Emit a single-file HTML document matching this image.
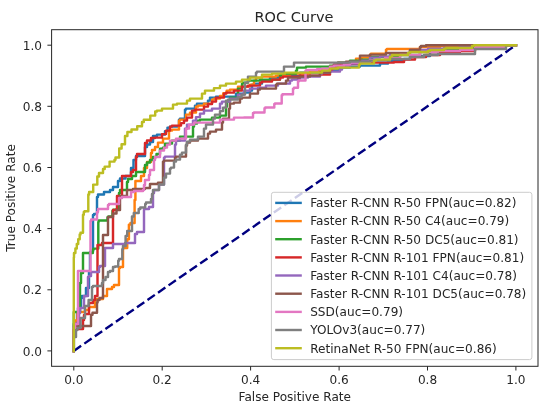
<!DOCTYPE html><html><head><meta charset="utf-8"><title>ROC Curve</title>
<style>html,body{margin:0;padding:0;background:#fff}svg{display:block}text{font-family:"DejaVu Sans","Liberation Sans",sans-serif;fill:#262626}</style></head><body>
<svg width="550" height="415" viewBox="0 0 550 415">
<rect width="550" height="415" fill="#fff"/>
<clipPath id="c"><rect x="51.6" y="29.7" width="486.4" height="336.6"/></clipPath>
<g clip-path="url(#c)" fill="none" stroke-width="2.45" stroke-linejoin="round" stroke-linecap="square">
<path d="M73.8 350.9 L515.9 45.2" stroke="#000080" stroke-width="2.4" stroke-dasharray="8.9 3.9" stroke-linecap="butt"/>
<path d="M73.8 350.9 L73.8 324.0 L74.5 324.0 L74.5 322.0 L77.0 322.0 L77.0 313.0 L78.0 313.0 L78.0 308.0 L81.0 308.0 L81.0 298.0 L82.0 298.0 L82.0 296.0 L86.0 296.0 L86.0 289.0 L86.0 289.0 L86.0 288.0 L89.0 288.0 L89.0 272.0 L90.0 272.0 L90.0 254.0 L90.0 254.0 L90.0 252.0 L93.0 252.0 L93.0 215.0 L94.0 215.0 L94.0 214.0 L97.0 214.0 L97.0 197.0 L98.0 197.0 L98.0 194.5 L104.0 194.5 L104.0 192.0 L110.0 192.0 L110.0 190.0 L113.0 190.0 L113.0 187.0 L118.0 187.0 L118.0 181.0 L120.0 181.0 L120.0 178.5 L125.5 178.5 L125.5 176.0 L131.0 176.0 L131.0 168.0 L133.5 168.0 L133.5 160.0 L136.0 160.0 L136.0 156.0 L145.0 156.0 L145.0 147.0 L147.0 147.0 L147.0 144.5 L150.0 144.5 L150.0 142.0 L153.0 142.0 L153.0 136.0 L157.0 136.0 L157.0 134.6 L165.0 134.6 L165.0 131.1 L167.5 131.1 L167.5 127.6 L170.0 127.6 L170.0 126.6 L179.0 126.6 L179.0 119.6 L180.0 119.6 L180.0 118.6 L185.0 118.6 L185.0 109.6 L186.0 109.6 L186.0 108.6 L195.0 108.6 L195.0 105.6 L197.0 105.6 L197.0 103.6 L208.0 103.6 L208.0 100.6 L210.0 100.6 L210.0 97.6 L216.0 97.6 L216.0 96.6 L222.0 96.6 L222.0 96.6 L236.0 96.6 L236.0 93.6 L238.0 93.6 L238.0 93.6 L244.0 93.6 L244.0 92.6 L250.0 92.6 L250.0 90.6 L252.0 90.6 L252.0 84.6 L254.0 84.6 L254.0 83.6 L262.0 83.6 L262.0 80.6 L270.0 80.6 L270.0 77.6 L278.0 77.6 L278.0 75.6 L300.0 75.6 L300.0 72.6 L330.0 72.6 L330.0 70.1 L340.0 70.1 L340.0 67.6 L350.0 67.6 L350.0 66.6 L360.0 66.6 L360.0 65.6 L380.0 65.6 L380.0 63.6 L388.0 63.6 L388.0 61.0 L404.0 61.0 L404.0 59.0 L410.0 59.0 L410.0 56.0 L430.0 56.0 L430.0 52.0 L445.0 52.0 L445.0 49.5 L452.5 49.5 L452.5 47.0 L460.0 47.0 L460.0 46.5 L480.0 46.5 L480.0 46.0 L500.0 46.0 L500.0 45.2 L515.9 45.2" stroke="#1f77b4"/>
<path d="M73.8 350.9 L73.8 328.0 L75.0 328.0 L75.0 320.5 L77.5 320.5 L77.5 313.0 L80.0 313.0 L80.0 312.0 L85.0 312.0 L85.0 310.0 L89.0 310.0 L89.0 307.0 L92.0 307.0 L92.0 307.0 L95.0 307.0 L95.0 300.0 L97.0 300.0 L97.0 299.0 L103.0 299.0 L103.0 296.0 L107.0 296.0 L107.0 290.0 L107.0 290.0 L107.0 289.0 L112.0 289.0 L112.0 287.0 L114.0 287.0 L114.0 285.0 L119.0 285.0 L119.0 270.0 L119.0 270.0 L119.0 268.0 L120.0 268.0 L120.0 267.0 L123.0 267.0 L123.0 250.0 L123.0 250.0 L123.0 248.0 L127.2 248.0 L127.2 239.3 L128.9 239.3 L128.9 224.6 L130.5 224.6 L130.5 223.0 L134.6 223.0 L134.6 200.0 L135.4 200.0 L135.4 185.0 L135.4 185.0 L135.4 181.0 L141.0 181.0 L141.0 176.0 L144.0 176.0 L144.0 168.0 L147.0 168.0 L147.0 162.0 L151.0 162.0 L151.0 153.0 L152.0 153.0 L152.0 150.0 L155.0 150.0 L155.0 147.0 L158.0 147.0 L158.0 142.6 L163.0 142.6 L163.0 138.6 L169.0 138.6 L169.0 130.6 L172.0 130.6 L172.0 129.6 L179.0 129.6 L179.0 120.6 L180.0 120.6 L180.0 119.6 L186.0 119.6 L186.0 114.6 L190.0 114.6 L190.0 112.6 L196.0 112.6 L196.0 106.6 L198.0 106.6 L198.0 105.6 L204.0 105.6 L204.0 103.6 L212.0 103.6 L212.0 99.6 L214.0 99.6 L214.0 98.6 L220.0 98.6 L220.0 95.9 L223.3 95.9 L223.3 93.3 L226.7 93.3 L226.7 90.6 L230.0 90.6 L230.0 89.6 L238.0 89.6 L238.0 86.6 L244.0 86.6 L244.0 86.6 L250.0 86.6 L250.0 84.6 L254.0 84.6 L254.0 80.6 L256.0 80.6 L256.0 77.6 L262.0 77.6 L262.0 76.6 L276.0 76.6 L276.0 75.6 L290.0 75.6 L290.0 73.6 L310.0 73.6 L310.0 70.6 L330.0 70.6 L330.0 68.1 L337.5 68.1 L337.5 65.6 L345.0 65.6 L345.0 63.6 L350.0 63.6 L350.0 61.1 L356.0 61.1 L356.0 58.6 L362.0 58.6 L362.0 57.6 L370.0 57.6 L370.0 54.6 L371.0 54.6 L371.0 53.6 L386.0 53.6 L386.0 49.6 L387.0 49.6 L387.0 49.0 L420.0 49.0 L420.0 47.0 L440.0 47.0 L440.0 46.0 L460.0 46.0 L460.0 45.2 L515.9 45.2" stroke="#ff7f0e"/>
<path d="M73.8 350.9 L73.8 312.0 L74.5 312.0 L74.5 312.0 L80.0 312.0 L80.0 283.0 L81.0 283.0 L81.0 273.0 L83.0 273.0 L83.0 253.5 L83.0 253.5 L83.0 253.0 L92.8 253.0 L92.8 249.5 L93.6 249.5 L93.6 248.6 L98.3 248.6 L98.3 222.0 L98.6 222.0 L98.6 220.5 L107.5 220.5 L107.5 217.2 L108.4 217.2 L108.4 216.4 L112.5 216.4 L112.5 210.7 L113.3 210.7 L113.3 209.8 L116.6 209.8 L116.6 209.0 L118.0 209.0 L118.0 198.0 L119.0 198.0 L119.0 193.0 L120.0 193.0 L120.0 190.0 L127.0 190.0 L127.0 182.0 L128.0 182.0 L128.0 179.0 L132.0 179.0 L132.0 176.0 L136.0 176.0 L136.0 172.0 L145.0 172.0 L145.0 165.0 L147.0 165.0 L147.0 162.5 L150.0 162.5 L150.0 160.0 L153.0 160.0 L153.0 157.0 L156.5 157.0 L156.5 154.0 L160.0 154.0 L160.0 148.6 L163.0 148.6 L163.0 147.6 L165.0 147.6 L165.0 143.6 L172.0 143.6 L172.0 140.6 L180.0 140.6 L180.0 136.6 L193.0 136.6 L193.0 126.6 L194.0 126.6 L194.0 123.6 L197.0 123.6 L197.0 120.6 L200.0 120.6 L200.0 119.6 L212.0 119.6 L212.0 117.6 L220.0 117.6 L220.0 115.6 L226.0 115.6 L226.0 106.6 L227.0 106.6 L227.0 101.6 L230.0 101.6 L230.0 97.6 L238.0 97.6 L238.0 88.6 L242.0 88.6 L242.0 83.6 L243.0 83.6 L243.0 82.6 L248.0 82.6 L248.0 80.6 L260.0 80.6 L260.0 79.6 L280.0 79.6 L280.0 75.6 L281.0 75.6 L281.0 73.6 L296.0 73.6 L296.0 70.6 L297.0 70.6 L297.0 67.6 L306.0 67.6 L306.0 66.6 L330.0 66.6 L330.0 65.6 L338.0 65.6 L338.0 62.6 L350.0 62.6 L350.0 60.6 L360.0 60.6 L360.0 59.6 L372.0 59.6 L372.0 57.0 L400.0 57.0 L400.0 55.0 L420.0 55.0 L420.0 52.0 L440.0 52.0 L440.0 50.0 L460.0 50.0 L460.0 48.0 L480.0 48.0 L480.0 46.5 L500.0 46.5 L500.0 45.2 L515.9 45.2" stroke="#2ca02c"/>
<path d="M73.8 350.9 L73.8 330.0 L75.0 330.0 L75.0 329.0 L83.0 329.0 L83.0 321.0 L83.0 321.0 L83.0 320.0 L84.0 320.0 L84.0 315.0 L85.0 315.0 L85.0 314.0 L89.0 314.0 L89.0 310.0 L89.0 310.0 L89.0 303.0 L93.0 303.0 L93.0 300.0 L95.0 300.0 L95.0 296.0 L97.5 296.0 L97.5 247.0 L97.5 247.0 L97.5 245.0 L102.0 245.0 L102.0 243.0 L103.0 243.0 L103.0 243.0 L113.0 243.0 L113.0 220.0 L113.0 220.0 L113.0 210.0 L117.0 210.0 L117.0 198.0 L117.0 198.0 L117.0 196.0 L122.0 196.0 L122.0 180.0 L122.0 180.0 L122.0 176.0 L131.0 176.0 L131.0 172.0 L133.0 172.0 L133.0 170.0 L136.0 170.0 L136.0 157.0 L137.0 157.0 L137.0 154.0 L145.0 154.0 L145.0 143.0 L147.0 143.0 L147.0 140.5 L151.0 140.5 L151.0 138.0 L155.0 138.0 L155.0 137.6 L162.0 137.6 L162.0 134.1 L166.0 134.1 L166.0 130.6 L170.0 130.6 L170.0 126.6 L172.0 126.6 L172.0 125.6 L181.0 125.6 L181.0 123.1 L184.0 123.1 L184.0 120.6 L187.0 120.6 L187.0 117.6 L192.0 117.6 L192.0 110.6 L195.0 110.6 L195.0 109.6 L204.0 109.6 L204.0 106.6 L208.0 106.6 L208.0 104.1 L212.0 104.1 L212.0 101.6 L216.0 101.6 L216.0 97.6 L224.0 97.6 L224.0 93.6 L226.0 93.6 L226.0 92.6 L234.0 92.6 L234.0 90.6 L242.0 90.6 L242.0 86.6 L248.0 86.6 L248.0 85.6 L260.0 85.6 L260.0 82.6 L262.0 82.6 L262.0 81.6 L272.0 81.6 L272.0 79.6 L280.0 79.6 L280.0 77.6 L283.0 77.6 L283.0 76.6 L300.0 76.6 L300.0 75.6 L320.0 75.6 L320.0 74.6 L330.0 74.6 L330.0 70.6 L332.0 70.6 L332.0 66.6 L334.0 66.6 L334.0 64.6 L338.0 64.6 L338.0 64.6 L344.0 64.6 L344.0 64.1 L360.0 64.1 L360.0 62.6 L394.0 62.6 L394.0 62.0 L404.0 62.0 L404.0 59.5 L415.0 59.5 L415.0 57.0 L426.0 57.0 L426.0 55.0 L440.0 55.0 L440.0 52.0 L460.0 52.0 L460.0 51.0 L475.0 51.0 L475.0 49.0 L476.0 49.0 L476.0 48.0 L505.0 48.0 L505.0 45.2 L515.9 45.2" stroke="#d62728"/>
<path d="M73.8 350.9 L73.8 326.0 L75.0 326.0 L75.0 324.0 L79.0 324.0 L79.0 313.0 L80.0 313.0 L80.0 308.0 L84.0 308.0 L84.0 296.0 L88.0 296.0 L88.0 277.0 L89.0 277.0 L89.0 276.0 L91.0 276.0 L91.0 272.0 L99.0 272.0 L99.0 267.0 L100.0 267.0 L100.0 266.0 L105.0 266.0 L105.0 249.0 L105.0 249.0 L105.0 248.0 L113.0 248.0 L113.0 244.0 L125.0 244.0 L125.0 243.0 L135.0 243.0 L135.0 234.0 L137.0 234.0 L137.0 232.0 L144.0 232.0 L144.0 212.0 L144.0 212.0 L144.0 209.0 L149.0 209.0 L149.0 207.0 L153.0 207.0 L153.0 193.0 L154.0 193.0 L154.0 190.0 L159.0 190.0 L159.0 184.6 L164.0 184.6 L164.0 157.6 L165.0 157.6 L165.0 156.6 L175.0 156.6 L175.0 144.6 L176.0 144.6 L176.0 140.6 L185.0 140.6 L185.0 128.6 L187.0 128.6 L187.0 124.6 L193.0 124.6 L193.0 120.6 L196.0 120.6 L196.0 117.1 L200.0 117.1 L200.0 113.6 L204.0 113.6 L204.0 110.6 L212.0 110.6 L212.0 108.6 L220.0 108.6 L220.0 103.6 L222.0 103.6 L222.0 101.6 L230.0 101.6 L230.0 98.6 L238.0 98.6 L238.0 94.6 L244.0 94.6 L244.0 90.6 L250.0 90.6 L250.0 88.6 L254.0 88.6 L254.0 88.6 L258.0 88.6 L258.0 87.6 L266.0 87.6 L266.0 85.6 L268.0 85.6 L268.0 85.6 L278.0 85.6 L278.0 83.6 L280.0 83.6 L280.0 83.6 L290.0 83.6 L290.0 80.6 L292.0 80.6 L292.0 79.6 L298.0 79.6 L298.0 78.6 L300.0 78.6 L300.0 77.6 L308.0 77.6 L308.0 76.6 L320.0 76.6 L320.0 73.6 L322.0 73.6 L322.0 72.6 L330.0 72.6 L330.0 71.6 L340.0 71.6 L340.0 69.6 L342.0 69.6 L342.0 65.6 L346.0 65.6 L346.0 65.6 L350.0 65.6 L350.0 63.6 L360.0 63.6 L360.0 60.6 L370.0 60.6 L370.0 57.6 L380.0 57.6 L380.0 56.6 L390.0 56.6 L390.0 54.0 L410.0 54.0 L410.0 50.0 L428.0 50.0 L428.0 48.6 L430.0 48.6 L430.0 48.6 L444.0 48.6 L444.0 48.0 L460.0 48.0 L460.0 46.0 L500.0 46.0 L500.0 45.2 L515.9 45.2" stroke="#9467bd"/>
<path d="M73.8 350.9 L73.8 330.0 L75.0 330.0 L75.0 326.0 L84.0 326.0 L84.0 326.0 L91.0 326.0 L91.0 316.0 L91.0 316.0 L91.0 314.7 L92.5 314.7 L92.5 312.8 L97.0 312.8 L97.0 302.5 L97.6 302.5 L97.6 300.0 L99.5 300.0 L99.5 298.0 L103.0 298.0 L103.0 236.0 L103.0 236.0 L103.0 235.0 L108.0 235.0 L108.0 220.0 L108.0 220.0 L108.0 217.0 L113.0 217.0 L113.0 213.5 L116.5 213.5 L116.5 210.0 L120.0 210.0 L120.0 199.0 L120.0 199.0 L120.0 196.0 L127.0 196.0 L127.0 193.0 L127.0 193.0 L127.0 190.0 L133.0 190.0 L133.0 189.0 L145.0 189.0 L145.0 188.0 L150.0 188.0 L150.0 184.0 L158.0 184.0 L158.0 182.6 L163.0 182.6 L163.0 161.6 L164.0 161.6 L164.0 160.6 L175.0 160.6 L175.0 157.6 L176.0 157.6 L176.0 156.6 L186.0 156.6 L186.0 145.6 L187.0 145.6 L187.0 142.6 L190.0 142.6 L190.0 140.6 L198.0 140.6 L198.0 138.6 L208.0 138.6 L208.0 133.6 L210.0 133.6 L210.0 131.6 L216.0 131.6 L216.0 129.6 L222.0 129.6 L222.0 122.6 L223.0 122.6 L223.0 118.6 L229.0 118.6 L229.0 108.6 L230.0 108.6 L230.0 103.6 L234.0 103.6 L234.0 102.6 L240.0 102.6 L240.0 98.6 L242.0 98.6 L242.0 97.6 L250.0 97.6 L250.0 93.6 L252.0 93.6 L252.0 93.6 L258.0 93.6 L258.0 89.6 L260.0 89.6 L260.0 88.6 L276.0 88.6 L276.0 84.6 L277.0 84.6 L277.0 83.6 L286.0 83.6 L286.0 80.6 L288.0 80.6 L288.0 77.6 L300.0 77.6 L300.0 76.6 L310.0 76.6 L310.0 75.6 L320.0 75.6 L320.0 72.6 L330.0 72.6 L330.0 66.6 L334.0 66.6 L334.0 64.6 L338.0 64.6 L338.0 62.6 L346.0 62.6 L346.0 61.6 L360.0 61.6 L360.0 55.6 L361.0 55.6 L361.0 55.6 L370.0 55.6 L370.0 54.6 L386.0 54.6 L386.0 53.0 L410.0 53.0 L410.0 50.0 L420.0 50.0 L420.0 47.0 L421.0 47.0 L421.0 46.0 L426.0 46.0 L426.0 45.2 L438.0 45.2 L438.0 45.2 L515.9 45.2" stroke="#8c564b"/>
<path d="M73.8 350.9 L73.8 328.0 L75.0 328.0 L75.0 324.0 L78.0 324.0 L78.0 272.0 L78.0 272.0 L78.0 271.0 L90.5 271.0 L90.5 221.0 L91.2 221.0 L91.2 219.5 L97.0 219.5 L97.0 212.0 L98.0 212.0 L98.0 209.0 L108.0 209.0 L108.0 205.0 L109.0 205.0 L109.0 204.0 L119.0 204.0 L119.0 198.0 L122.0 198.0 L122.0 197.0 L131.0 197.0 L131.0 192.0 L134.0 192.0 L134.0 191.0 L143.0 191.0 L143.0 190.0 L144.0 190.0 L144.0 185.0 L145.0 185.0 L145.0 180.0 L149.0 180.0 L149.0 175.0 L150.0 175.0 L150.0 170.0 L154.0 170.0 L154.0 160.0 L155.0 160.0 L155.0 157.0 L160.0 157.0 L160.0 150.6 L164.0 150.6 L164.0 147.6 L167.0 147.6 L167.0 144.6 L170.0 144.6 L170.0 140.6 L176.0 140.6 L176.0 138.6 L186.0 138.6 L186.0 128.6 L189.0 128.6 L189.0 124.6 L194.0 124.6 L194.0 122.6 L210.0 122.6 L210.0 122.6 L220.0 122.6 L220.0 119.6 L224.0 119.6 L224.0 119.6 L234.0 119.6 L234.0 117.6 L238.0 117.6 L238.0 117.6 L244.0 117.6 L244.0 117.4 L253.0 117.4 L253.0 113.0 L254.0 113.0 L254.0 112.4 L264.5 112.4 L264.5 108.3 L265.3 108.3 L265.3 107.5 L274.3 107.5 L274.3 104.0 L275.0 104.0 L275.0 103.4 L281.7 103.4 L281.7 95.2 L282.5 95.2 L282.5 94.3 L293.0 94.3 L293.0 88.6 L294.0 88.6 L294.0 87.8 L298.0 87.8 L298.0 81.2 L299.0 81.2 L299.0 80.4 L305.5 80.4 L305.5 70.6 L306.3 70.6 L306.3 70.0 L317.0 70.0 L317.0 69.2 L322.0 69.2 L322.0 68.6 L330.0 68.6 L330.0 66.6 L334.0 66.6 L334.0 65.6 L344.0 65.6 L344.0 64.6 L350.0 64.6 L350.0 62.6 L370.0 62.6 L370.0 60.3 L385.0 60.3 L385.0 58.0 L400.0 58.0 L400.0 55.0 L420.0 55.0 L420.0 52.0 L438.0 52.0 L438.0 51.0 L460.0 51.0 L460.0 50.0 L475.0 50.0 L475.0 48.0 L476.0 48.0 L476.0 47.0 L505.0 47.0 L505.0 45.2 L515.9 45.2" stroke="#e377c2"/>
<path d="M73.8 350.9 L73.8 349.0 L74.0 349.0 L74.0 337.0 L76.0 337.0 L76.0 330.0 L77.4 330.0 L77.4 328.0 L80.6 328.0 L80.6 318.0 L85.0 318.0 L85.0 306.0 L88.6 306.0 L88.6 300.0 L92.0 300.0 L92.0 287.0 L93.0 287.0 L93.0 286.0 L102.0 286.0 L102.0 283.0 L103.0 283.0 L103.0 280.0 L105.5 280.0 L105.5 277.0 L108.0 277.0 L108.0 272.0 L110.0 272.0 L110.0 271.0 L113.0 271.0 L113.0 267.0 L115.0 267.0 L115.0 266.5 L118.2 266.5 L118.2 260.7 L119.0 260.7 L119.0 259.0 L122.3 259.0 L122.3 249.2 L123.0 249.2 L123.0 246.0 L125.6 246.0 L125.6 236.0 L127.2 236.0 L127.2 231.0 L132.0 231.0 L132.0 216.4 L133.8 216.4 L133.8 213.0 L138.7 213.0 L138.7 209.0 L140.3 209.0 L140.3 207.4 L145.2 207.4 L145.2 204.0 L146.0 204.0 L146.0 202.5 L151.0 202.5 L151.0 199.0 L152.0 199.0 L152.0 194.0 L153.0 194.0 L153.0 190.0 L159.0 190.0 L159.0 184.6 L164.0 184.6 L164.0 177.6 L166.0 177.6 L166.0 173.6 L170.0 173.6 L170.0 168.6 L171.0 168.6 L171.0 167.6 L174.0 167.6 L174.0 161.6 L176.0 161.6 L176.0 159.6 L180.0 159.6 L180.0 154.6 L182.0 154.6 L182.0 152.6 L186.0 152.6 L186.0 144.6 L187.0 144.6 L187.0 141.6 L190.0 141.6 L190.0 139.6 L198.0 139.6 L198.0 136.6 L204.0 136.6 L204.0 128.6 L206.0 128.6 L206.0 124.6 L213.0 124.6 L213.0 118.6 L215.0 118.6 L215.0 114.6 L220.0 114.6 L220.0 111.1 L223.0 111.1 L223.0 107.6 L226.0 107.6 L226.0 100.6 L228.0 100.6 L228.0 99.6 L238.0 99.6 L238.0 97.1 L241.5 97.1 L241.5 94.6 L245.0 94.6 L245.0 82.6 L248.0 82.6 L248.0 76.6 L250.0 76.6 L250.0 76.6 L256.0 76.6 L256.0 72.6 L257.0 72.6 L257.0 71.6 L284.0 71.6 L284.0 66.6 L285.0 66.6 L285.0 66.6 L294.0 66.6 L294.0 62.6 L295.0 62.6 L295.0 62.6 L340.0 62.6 L340.0 62.6 L350.0 62.6 L350.0 61.6 L370.0 61.6 L370.0 60.6 L390.0 60.6 L390.0 59.0 L410.0 59.0 L410.0 57.0 L424.0 57.0 L424.0 55.0 L438.0 55.0 L438.0 54.0 L460.0 54.0 L460.0 54.0 L475.0 54.0 L475.0 50.0 L475.0 50.0 L475.0 49.0 L506.0 49.0 L506.0 45.2 L515.9 45.2" stroke="#7f7f7f"/>
<path d="M73.8 350.9 L73.8 268.0 L73.8 268.0 L73.8 257.4 L74.0 257.4 L74.0 253.0 L75.4 253.0 L75.4 248.5 L76.8 248.5 L76.8 244.0 L78.2 244.0 L78.2 239.3 L79.7 239.3 L79.7 234.4 L80.5 234.4 L80.5 232.8 L83.0 232.8 L83.0 214.8 L83.8 214.8 L83.8 212.0 L84.5 212.0 L84.5 211.3 L88.3 211.3 L88.3 194.4 L89.1 194.4 L89.1 192.0 L93.2 192.0 L93.2 184.6 L97.3 184.6 L97.3 176.4 L99.0 176.4 L99.0 173.0 L103.0 173.0 L103.0 169.0 L104.7 169.0 L104.7 166.6 L109.6 166.6 L109.6 161.6 L114.5 161.6 L114.5 159.8 L115.5 159.8 L115.5 157.4 L119.2 157.4 L119.2 148.4 L121.6 148.4 L121.6 144.3 L125.0 144.3 L125.0 136.0 L127.4 136.0 L127.4 132.0 L131.5 132.0 L131.5 129.5 L137.2 129.5 L137.2 126.2 L142.0 126.2 L142.0 122.0 L143.8 122.0 L143.8 119.7 L150.3 119.7 L150.3 115.6 L155.2 115.6 L155.2 111.5 L156.9 111.5 L156.9 110.6 L162.0 110.6 L162.0 108.6 L173.0 108.6 L173.0 104.6 L177.0 104.6 L177.0 103.6 L187.0 103.6 L187.0 100.6 L190.0 100.6 L190.0 98.6 L202.0 98.6 L202.0 93.6 L205.0 93.6 L205.0 90.6 L214.0 90.6 L214.0 88.1 L220.0 88.1 L220.0 85.6 L226.0 85.6 L226.0 83.6 L236.0 83.6 L236.0 81.6 L242.0 81.6 L242.0 79.6 L250.0 79.6 L250.0 77.6 L262.0 77.6 L262.0 74.6 L272.0 74.6 L272.0 73.6 L285.0 73.6 L285.0 72.6 L296.0 72.6 L296.0 72.6 L322.0 72.6 L322.0 70.6 L330.0 70.6 L330.0 68.6 L338.0 68.6 L338.0 67.6 L346.0 67.6 L346.0 67.6 L359.0 67.6 L359.0 64.6 L360.0 64.6 L360.0 63.6 L374.0 63.6 L374.0 60.6 L376.0 60.6 L376.0 59.6 L390.0 59.6 L390.0 56.6 L392.0 56.6 L392.0 55.0 L408.0 55.0 L408.0 53.0 L410.0 53.0 L410.0 52.0 L428.0 52.0 L428.0 51.0 L430.0 51.0 L430.0 50.0 L444.0 50.0 L444.0 48.6 L446.0 48.6 L446.0 48.0 L460.0 48.0 L460.0 48.0 L472.0 48.0 L472.0 46.0 L474.0 46.0 L474.0 45.2 L515.9 45.2" stroke="#bcbd22"/>
</g>
<rect x="51.6" y="29.7" width="486.4" height="336.6" fill="none" stroke="#262626" stroke-width="1"/>
<path d="M73.8 366.3 v4.2" stroke="#262626" stroke-width="1"/>
<text x="73.8" y="384.3" font-size="12.1" text-anchor="middle">0.0</text>
<path d="M51.6 350.9 h-4.2" stroke="#262626" stroke-width="1"/>
<text x="42.0" y="355.5" font-size="12.1" text-anchor="end">0.0</text>
<path d="M162.2 366.3 v4.2" stroke="#262626" stroke-width="1"/>
<text x="162.2" y="384.3" font-size="12.1" text-anchor="middle">0.2</text>
<path d="M51.6 289.8 h-4.2" stroke="#262626" stroke-width="1"/>
<text x="42.0" y="294.4" font-size="12.1" text-anchor="end">0.2</text>
<path d="M250.6 366.3 v4.2" stroke="#262626" stroke-width="1"/>
<text x="250.6" y="384.3" font-size="12.1" text-anchor="middle">0.4</text>
<path d="M51.6 228.6 h-4.2" stroke="#262626" stroke-width="1"/>
<text x="42.0" y="233.2" font-size="12.1" text-anchor="end">0.4</text>
<path d="M339.1 366.3 v4.2" stroke="#262626" stroke-width="1"/>
<text x="339.1" y="384.3" font-size="12.1" text-anchor="middle">0.6</text>
<path d="M51.6 167.5 h-4.2" stroke="#262626" stroke-width="1"/>
<text x="42.0" y="172.1" font-size="12.1" text-anchor="end">0.6</text>
<path d="M427.5 366.3 v4.2" stroke="#262626" stroke-width="1"/>
<text x="427.5" y="384.3" font-size="12.1" text-anchor="middle">0.8</text>
<path d="M51.6 106.3 h-4.2" stroke="#262626" stroke-width="1"/>
<text x="42.0" y="110.9" font-size="12.1" text-anchor="end">0.8</text>
<path d="M515.9 366.3 v4.2" stroke="#262626" stroke-width="1"/>
<text x="515.9" y="384.3" font-size="12.1" text-anchor="middle">1.0</text>
<path d="M51.6 45.2 h-4.2" stroke="#262626" stroke-width="1"/>
<text x="42.0" y="49.8" font-size="12.1" text-anchor="end">1.0</text>
<text x="294.8" y="401.1" font-size="12.1" text-anchor="middle">False Positive Rate</text>
<text transform="translate(15.2 198.0) rotate(-90)" font-size="12.1" text-anchor="middle">True Positive Rate</text>
<text x="294.0" y="21.6" font-size="14.5" text-anchor="middle">ROC Curve</text>
<rect x="271.4" y="192.3" width="260.5" height="167.3" rx="2.4" fill="#fff" fill-opacity="0.8" stroke="#ccc" stroke-width="1"/>
<path d="M276.4 202.9 h24.2" stroke="#1f77b4" stroke-width="2.4" stroke-linecap="square"/>
<text x="310.2" y="207.3" font-size="12.1">Faster R-CNN R-50 FPN(auc=0.82)</text>
<path d="M276.4 221.1 h24.2" stroke="#ff7f0e" stroke-width="2.4" stroke-linecap="square"/>
<text x="310.2" y="225.4" font-size="12.1">Faster R-CNN R-50 C4(auc=0.79)</text>
<path d="M276.4 239.2 h24.2" stroke="#2ca02c" stroke-width="2.4" stroke-linecap="square"/>
<text x="310.2" y="243.6" font-size="12.1">Faster R-CNN R-50 DC5(auc=0.81)</text>
<path d="M276.4 257.4 h24.2" stroke="#d62728" stroke-width="2.4" stroke-linecap="square"/>
<text x="310.2" y="261.7" font-size="12.1">Faster R-CNN R-101 FPN(auc=0.81)</text>
<path d="M276.4 275.5 h24.2" stroke="#9467bd" stroke-width="2.4" stroke-linecap="square"/>
<text x="310.2" y="279.9" font-size="12.1">Faster R-CNN R-101 C4(auc=0.78)</text>
<path d="M276.4 293.7 h24.2" stroke="#8c564b" stroke-width="2.4" stroke-linecap="square"/>
<text x="310.2" y="298.1" font-size="12.1">Faster R-CNN R-101 DC5(auc=0.78)</text>
<path d="M276.4 311.9 h24.2" stroke="#e377c2" stroke-width="2.4" stroke-linecap="square"/>
<text x="310.2" y="316.2" font-size="12.1">SSD(auc=0.79)</text>
<path d="M276.4 330.0 h24.2" stroke="#7f7f7f" stroke-width="2.4" stroke-linecap="square"/>
<text x="310.2" y="334.4" font-size="12.1">YOLOv3(auc=0.77)</text>
<path d="M276.4 348.2 h24.2" stroke="#bcbd22" stroke-width="2.4" stroke-linecap="square"/>
<text x="310.2" y="352.5" font-size="12.1">RetinaNet R-50 FPN(auc=0.86)</text>
</svg></body></html>
